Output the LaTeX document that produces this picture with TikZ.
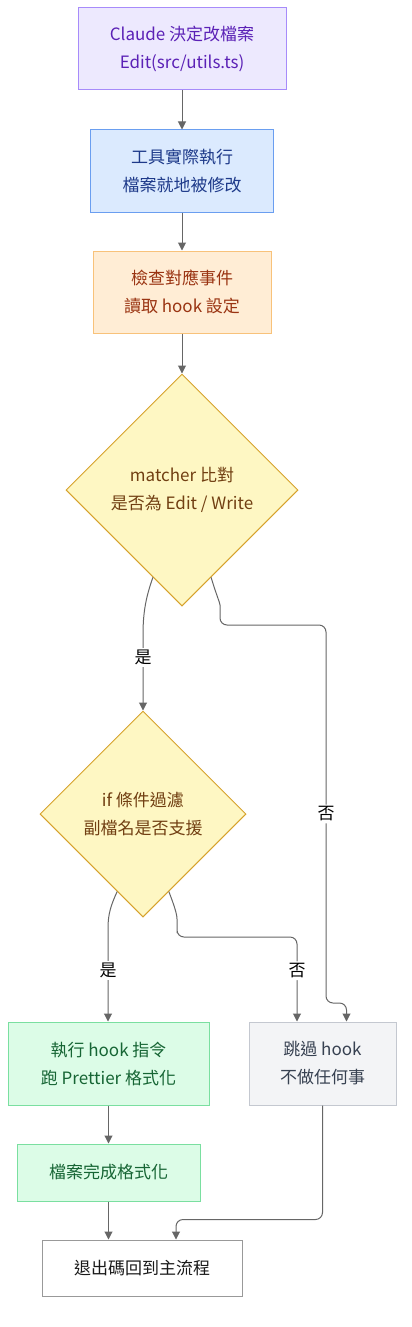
\documentclass[tikz,border=0pt]{standalone}
\usepackage{fontspec}
\setmainfont{Noto Sans CJK TC}
\usetikzlibrary{arrows.meta,shapes.geometric,calc}

\begin{document}
\begin{tikzpicture}[x=1pt,y=-1pt,>={Triangle[length=8pt,width=8pt]},
	box/.style={draw,line width=1pt,rectangle,inner sep=0pt,align=center,
		font=\fontsize{17}{28}\selectfont},
	decide/.style={draw,line width=1pt,diamond,aspect=1,inner sep=0pt,align=center,
		fill=ifill,draw=idraw,text=itext,font=\fontsize{17}{28}\selectfont},
	edge/.style={->,line width=1pt,color=egray},
	lbl/.style={fill=white,text=black,inner sep=2pt,font=\fontsize{17}{20}\selectfont}]

\definecolor{egray}{HTML}{666666}
\definecolor{pfill}{HTML}{EDE9FE}\definecolor{pdraw}{HTML}{A78BFA}\definecolor{ptext}{HTML}{5B21B6}
\definecolor{bfill}{HTML}{DBEAFE}\definecolor{bdraw}{HTML}{6A9EF0}\definecolor{btext}{HTML}{1E3A8A}
\definecolor{ofill}{HTML}{FFEDD5}\definecolor{odraw}{HTML}{F8C27A}\definecolor{otext}{HTML}{9A3412}
\definecolor{ifill}{HTML}{FEF7C3}\definecolor{idraw}{HTML}{D6A22C}\definecolor{itext}{HTML}{713F12}
\definecolor{gfill}{HTML}{DCFCE7}\definecolor{gdraw}{HTML}{7ADFA0}\definecolor{gtext}{HTML}{166534}
\definecolor{sfill}{HTML}{F3F4F6}\definecolor{sdraw}{HTML}{C4C8D0}\definecolor{stext}{HTML}{374151}

\useasboundingbox (0,0) rectangle (412,1327);

\node[box,fill=pfill,draw=pdraw,text=ptext,minimum width=208,minimum height=82]
	(claude) at (182,49) {Claude 決定改檔案\\Edit(src/utils.ts)};
\node[box,fill=bfill,draw=bdraw,text=btext,minimum width=183,minimum height=82]
	(tool) at (182,171) {工具實際執行\\檔案就地被修改};
\node[box,fill=ofill,draw=odraw,text=otext,minimum width=178,minimum height=82]
	(check) at (182,292) {檢查對應事件\\讀取 hook 設定};
\node[decide,minimum width=232,minimum height=232]
	(matcher) at (182,490) {matcher 比對\\是否為 Edit / Write};
\node[decide,minimum width=206,minimum height=206]
	(iffilter) at (143,814) {if 條件過濾\\副檔名是否支援};
\node[box,fill=gfill,draw=gdraw,text=gtext,minimum width=201,minimum height=83]
	(runhook) at (108.5,1063.5) {執行 hook 指令\\跑 Prettier 格式化};
\node[box,fill=sfill,draw=sdraw,text=stext,minimum width=147,minimum height=83]
	(skip) at (322.5,1063.5) {跳過 hook\\不做任何事};
\node[box,fill=gfill,draw=gdraw,text=gtext,minimum width=183,minimum height=57]
	(done) at (108.5,1172.5) {檔案完成格式化};
\node[box,fill=white,draw=black!40,text=black!90,minimum width=200,minimum height=56]
	(exitc) at (142,1268) {退出碼回到主流程};

\draw[edge] (claude) -- (tool);
\draw[edge] (tool) -- (check);
\draw[edge] (check) -- (matcher);

% matcher branches
\draw[edge] ($(matcher.south)!0.25!(matcher.west)$) .. controls (146,597) and (143,612) .. (143,635)
	-- node[lbl,pos=0.3]{是} (iffilter.north);
\draw[edge,rounded corners=7pt] ($(matcher.south)!0.25!(matcher.east)$) .. controls (216,594) and (220,603) .. (220,612)
	|- (326,625) -- node[lbl]{否} (326,1003) -| ($(skip.north)+(24,0)$);

% if branches
\draw[edge] ($(iffilter.south)!0.25!(iffilter.west)$) .. controls (111,905) and (108,914) .. (108,928)
	-- node[lbl,pos=0.45]{是} (runhook.north -| 108,0);
\draw[edge,rounded corners=7pt] ($(iffilter.south)!0.25!(iffilter.east)$) .. controls (174,905) and (177,914) .. (177,926)
	|- (297,937) -- node[lbl,pos=0.4]{否} ($(skip.north)+(-25.5,0)$);

\draw[edge] (runhook) -- (done);
\draw[edge] (done.south) -- (done.south |- exitc.north);
\draw[edge,rounded corners=7pt] (skip.south) |- ($(exitc.north)+(34,-20)$) -- ($(exitc.north)+(34,0)$);

\end{tikzpicture}
\end{document}
